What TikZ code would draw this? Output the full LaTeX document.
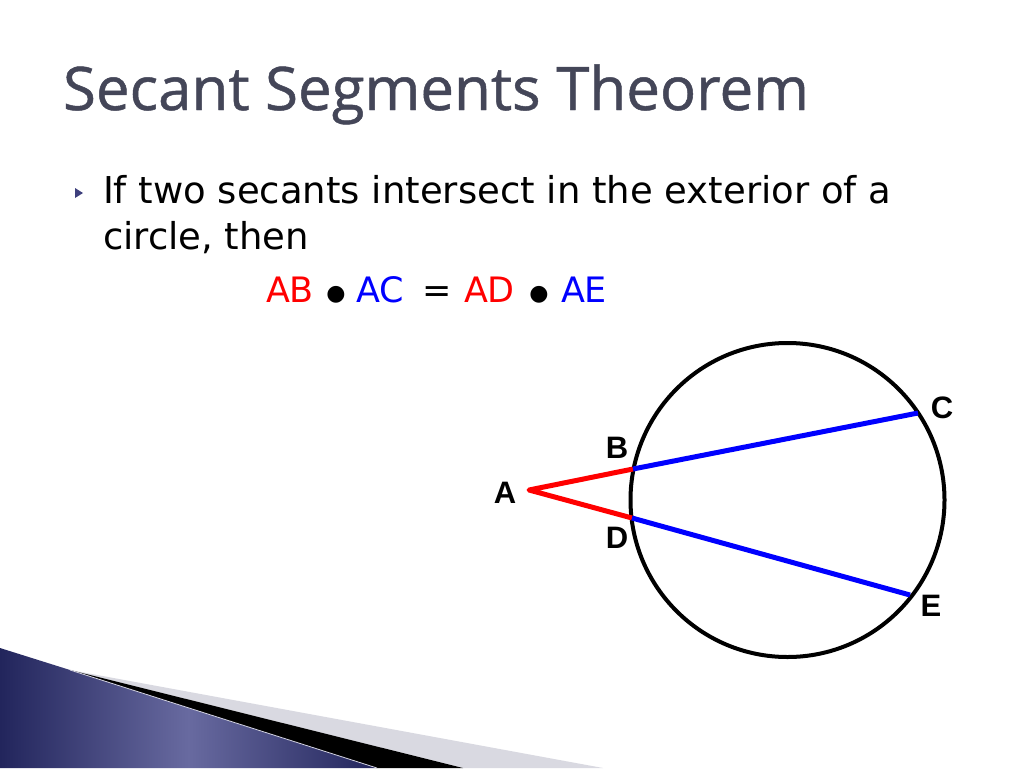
\documentclass[tikz,border=0pt]{standalone}
\usepackage{fontspec}
\setmainfont{DejaVu Sans}
\newfontfamily\titlefont[FakeBold=0.8]{Open Sans}
\newfontfamily\lblfont{Liberation Sans}
\usetikzlibrary{calc}
\definecolor{titlegray}{RGB}{68,70,88}
\definecolor{navydark}{RGB}{34,37,92}
\definecolor{navylight}{RGB}{104,106,160}
\definecolor{stripegray}{RGB}{217,217,225}
\definecolor{bulletblue}{RGB}{62,64,125}
\definecolor{pred}{RGB}{255,0,0}
\definecolor{pblue}{RGB}{0,0,255}
\begin{document}
\begin{tikzpicture}[x=1pt,y=-1pt,
  txt/.style={anchor=base west,inner sep=0pt,outer sep=0pt},
  eqtxt/.style={txt,font=\fontsize{35}{35}\selectfont},
  eqdot/.style={inner sep=0pt,outer sep=0pt,anchor=center,font=\fontsize{22}{22}\selectfont},
  lbl/.style={inner sep=0pt,font=\lblfont\bfseries\fontsize{31}{31}\selectfont},
  redseg/.style={draw=pred,line width=5pt},
  blueseg/.style={draw=pblue,line width=5pt}]
\useasboundingbox (0,0) rectangle (1024,768);
\fill[white] (0,0) rectangle (1024,768);
% bottom-left decoration
\shade[left color=navydark,right color=navydark,middle color=navylight]
  (0,648) -- (70,670) -- (377,768) -- (0,768) -- cycle;
\fill[stripegray] (70,670) -- (603,768) -- (463,768) -- cycle;
\fill[black] (70,670) -- (463,768) -- (377,768) -- cycle;
\draw[white!70!navylight,line width=0.8pt] (70,670) -- (377,768);
% title
\node[txt,text=titlegray,font=\titlefont\fontsize{60}{60}\selectfont] (title) at (63,110) {Secant Segments Theorem};
% bullet
\fill[bulletblue] (75,188) -- (83,193) -- (75,198) -- cycle;
\node[txt,font=\fontsize{37}{37}\selectfont] (l1) at (103,203) {If two secants intersect in the exterior of a};
\node[txt,font=\fontsize{37}{37}\selectfont] (l2) at (103,249) {circle, then};
% equation
\node[eqtxt,text=pred] (eAB) at (266,302) {AB};
\node[eqdot] (d1) at (336,295) {●};
\node[eqtxt,text=pblue] (eAC) at (356,302) {AC};
\node[eqtxt] (eq) at (422,302) {=};
\node[eqtxt,text=pred] (eAD) at (464,302) {AD};
\node[eqdot] (d2) at (539,295) {●};
\node[eqtxt,text=pblue] (eAE) at (561,302) {AE};
% diagram
\node[circle,draw=black,line width=4pt,minimum size=314pt,inner sep=0pt] (O) at (787.5,500) {};
\coordinate (A) at (529,490);
\coordinate (B) at (633,469);
\coordinate (C) at (918,413);
\coordinate (D) at (632,518);
\coordinate (E) at (910,595);
\draw[redseg,line join=round] (B) -- (A) -- (D);
\draw[blueseg] (B) -- (C);
\draw[blueseg] (D) -- (E);
\node[lbl] (lA) at (505,493) {A};
\node[lbl] (lB) at (617,448) {B};
\node[lbl] (lC) at (942,408) {C};
\node[lbl] (lD) at (617,538) {D};
\node[lbl] (lE) at (931,606) {E};
\end{tikzpicture}
\end{document}
